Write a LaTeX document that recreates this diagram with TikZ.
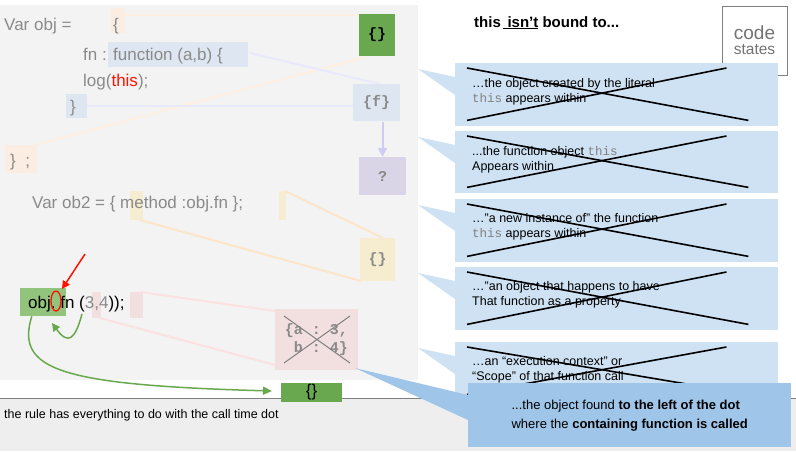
\documentclass[tikz,border=0pt]{standalone}
\usepackage{fontspec}
\setmainfont{Liberation Sans}
\setmonofont{Liberation Mono}
\usetikzlibrary{arrows.meta}
\definecolor{panel}{HTML}{F3F3F3}
\definecolor{band}{HTML}{EEEEEE}
\definecolor{gA}{HTML}{6AA84F}
\definecolor{gB}{HTML}{93C47D}
\definecolor{peach}{HTML}{FBEDE1}
\definecolor{lblue}{HTML}{DEE7F1}
\definecolor{lav}{HTML}{D9D4E6}
\definecolor{yel}{HTML}{F6ECCF}
\definecolor{pink}{HTML}{F2E0E0}
\definecolor{cbox}{HTML}{CFE2F3}
\definecolor{cbig}{HTML}{9FC5E8}
\definecolor{codeg}{HTML}{8A8A8A}
\begin{document}
\begin{tikzpicture}[x=1pt,y=-1pt,
  code/.style={anchor=base west,inner sep=0pt,font=\fontsize{17}{20}\selectfont,text=codeg},
  hl/.style={inner sep=0pt},
  cbx/.style={fill=cbox,draw=none},
  xline/.style={line width=1.6pt,black},
  ctext/.style={anchor=north west,align=left,inner sep=0pt,font=\fontsize{12.5}{15.5}\selectfont},
  objbox/.style={font=\bfseries\ttfamily\fontsize{15}{15}\selectfont,text=codeg,inner sep=0pt}]
\useasboundingbox (0,0) rectangle (796,451);
\fill[white] (0,0) rectangle (796,451);
\fill[panel] (0,5) rectangle (418,380);
\fill[band] (0,398) rectangle (796,451);
\draw[gray,line width=1pt] (0,398) -- (796,398);

% highlights
\fill[peach] (111,8) rectangle (125,33);
\fill[lblue] (108,42) rectangle (248,67);
\fill[lblue] (66,94) rectangle (87,118);
\fill[peach] (5,145) rectangle (37,173);
\fill[yel] (130,191) rectangle (143,220);
\fill[yel] (279,191) rectangle (286,220);
\fill[pink] (92,292) rectangle (101,318);
\fill[pink] (130,292) rectangle (143,318);

% connectors (faint)
\draw[peach!80!orange!40,line width=2pt] (125,15) -- (358,15);
\draw[peach!80!orange!40,line width=2pt] (35,145) -- (366,57);
\draw[lblue!80!blue!30,line width=2pt] (250,53) -- (380,84);
\draw[lblue!80!blue!30,line width=2pt] (87,106) -- (353,106);
\draw[yel!70!orange!50,line width=2pt] (140,220) -- (361,281);
\draw[yel!70!orange!50,line width=2pt] (285,191) -- (383,238);
\draw[pink!80!red!40,line width=2pt] (140,292) -- (275,311);
\draw[pink!80!red!40,line width=2pt] (100,318) -- (275,365);

% code
\node[code] (l1) at (4,30) {Var obj =};
\node[code] (b1) at (113,30) {\{};
\node[code] (l2) at (83,60) {fn : function (a,b) \{};
\node[code] (l3) at (83,86) {log(\textcolor{red!85!orange}{this});};
\node[code] (l4) at (70,112) {\}};
\node[code] (l5) at (10,166) {\}\ \ ;};
\node[code] (l6) at (32,208) {Var ob2 = \{ method :obj.fn \};};

% right column objects
\node[fill=gA,minimum width=36pt,minimum height=42pt,inner sep=0pt,font=\bfseries\ttfamily\fontsize{15}{15}\selectfont] (o1) at (377,35) {\{\}};
\node[fill=lblue,objbox,minimum width=47pt,minimum height=37pt] (of) at (376.5,102.5) {\{f\}};
\node[fill=lav,objbox,minimum width=47pt,minimum height=38pt] (oq) at (382.5,176) {?};
\draw[lav!80!blue!60,line width=2pt,-{Triangle[width=9pt,length=9pt]}] (of.south -| oq.north) ++(0,1) coordinate (fa) -- (oq.north);
\node[fill=yel,objbox,minimum width=35pt,minimum height=43pt] (oy) at (377.5,259.5) {\{\}};
\node[fill=pink,objbox,minimum width=83pt,minimum height=61pt,align=center] (op) at (316.5,339.5) {\{a : 3,\\[3pt]\ b : 4\}};
\draw[gray,line width=1pt] (284,316) -- (350,363) (284,363) -- (350,316);

% call line
\node[fill=gB,minimum width=46pt,minimum height=28pt,inner sep=0pt] (objb) at (43,302) {};
\node[code,text=black] (call) at (28,308) {obj.\ fn (\textcolor{codeg}{3,4}));};
\draw[red!85!orange,line width=1.3pt] (56,301) ellipse (5 and 10);
\coordinate (ra) at (85,254);
\draw[red!85!orange,line width=1.5pt,-{Triangle[width=8pt,length=8pt]}] (ra) -- (62,289);
\coordinate (gs) at (82,314);
\draw[gA,line width=1.5pt,-{Triangle[width=8pt,length=8pt]}] (gs) .. controls (75,340) and (68,345) .. (52,323);
\node[fill=gA,minimum width=61pt,minimum height=19pt,inner sep=0pt,font=\fontsize{17}{17}\selectfont] (og) at (311.5,392.5) {\{\}};
\draw[gA,line width=1.5pt,-{Triangle[width=8pt,length=9pt]}] (objb.south west) ++(12,0) .. controls (15,370) and (60,385) .. (272,391);

% title and logo
\node[anchor=base west,inner sep=0pt,font=\bfseries\fontsize{15}{18}\selectfont] (title) at (474,27) {this\,\underline{ isn't} bound to...};
\node[draw=gray,line width=1pt,fill=white,minimum width=65pt,minimum height=69pt,inner sep=0pt,align=center,font=\fontsize{19}{17}\selectfont,text=gray!90!black] (logo) at (754.5,40.5) {code\\[-2pt]{\fontsize{15.5}{15}\selectfont states}};

% callout boxes
\foreach \t/\b/\n in {63/126/c1,131/193/c2,199/262/c3,267/330/c4,342/400/c5}{
  \fill[cbox] (418,\t+6) -- (455,\t+14) -- (455,\t+32) -- cycle;
  \node[cbx,minimum width=323pt,minimum height=\b-\t,inner sep=0pt,anchor=north west] (\n) at (455,\t) {};
}
\node[ctext] (t1) at (472,78) {…the object created by the literal\\\textcolor{gray}{\ttfamily this} appears within};
\node[ctext] (t2) at (472,146) {...the function object \textcolor{gray}{\ttfamily this}\\Appears within};
\node[ctext] (t3) at (472,213) {…”a new instance of” the function\\\textcolor{gray}{\ttfamily this} appears within};
\node[ctext] (t4) at (472,281) {…”an object  that happens to have\\That function as a property};
\node[ctext] (t5) at (472,356) {…an “execution context” or\\“Scope” of that function call};
\foreach \n in {c1,c2,c3,c4,c5}{
  \draw[xline] ([shift={(12,5)}]\n.north west) -- ([shift={(-30,-6)}]\n.south east);
  \draw[xline] ([shift={(12,-6)}]\n.south west) -- ([shift={(-52,5)}]\n.north east);
}
\fill[cbig] (355,368) -- (468,395) -- (468,420) -- cycle;
\node[fill=cbig,minimum width=323pt,minimum height=64pt,inner sep=0pt,anchor=north west,align=left,font=\fontsize{13}{19}\selectfont] (big) at (468,383) {...the object found \textbf{to the left of the dot}\\where the \textbf{containing function is called}};
\node[anchor=base west,inner sep=0pt,font=\fontsize{12.5}{15}\selectfont] (rule) at (4,418) {the rule has everything to do with the call time dot};
\end{tikzpicture}
\end{document}
